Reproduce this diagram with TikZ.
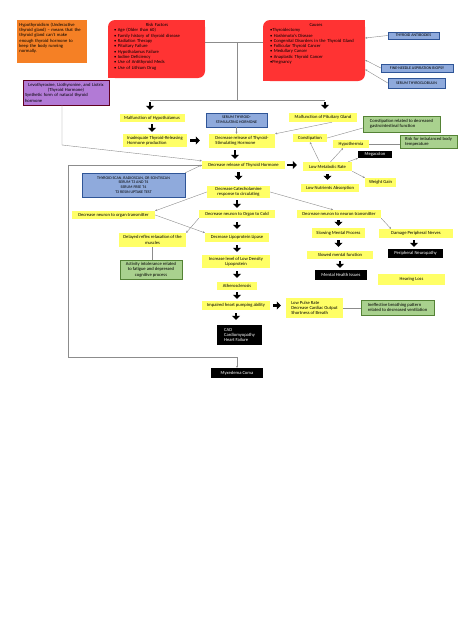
\documentclass[tikz,border=0pt]{standalone}
\usepackage{fontspec}
\setmainfont{Carlito}
\usetikzlibrary{arrows.meta}
\definecolor{boxyellow}{RGB}{255,255,102}
\definecolor{riskred}{RGB}{255,51,51}
\definecolor{noteorange}{RGB}{245,128,37}
\definecolor{drugpurple}{RGB}{178,122,214}
\definecolor{labblue}{RGB}{143,170,220}
\definecolor{labborder}{RGB}{47,85,151}
\definecolor{carefill}{RGB}{169,209,142}
\definecolor{careborder}{RGB}{84,130,53}
\definecolor{wire}{RGB}{140,140,140}
\newcommand\tinytext{\fontsize{4.6}{5.3}\selectfont}
\newcommand\labtext{\fontsize{4}{4.8}\selectfont}
\newcommand\midline[1]{\makebox[\hsize][c]{#1}}

\tikzset{
  box/.style={inner sep=1pt, font=\tinytext, align=center},
  yel/.style={box, fill=boxyellow},
  lab/.style={box, font=\labtext, fill=labblue, draw=labborder, line width=0.4pt},
  care/.style={box, fill=carefill, draw=careborder, line width=0.4pt},
  dark/.style={box, fill=black, text=white},
  fat/.style={line width=2.6pt, -{Triangle[length=4pt,width=8pt]}, shorten <=2pt, shorten >=2pt},
  link/.style={draw=wire, line width=0.4pt, -{Stealth[length=2pt,width=2pt]}},
  wirel/.style={draw=wire, line width=0.4pt},
}

\begin{document}
\begin{tikzpicture}[x=1pt,y=-1pt]
  \useasboundingbox[fill=white] (0,0) rectangle (474,632);

  \node[box, fill=noteorange, minimum width=70pt, minimum height=43pt] (note) at (52,41.5) {};
  \node[box, anchor=north west, text width=68pt, align=left] (notetext) at ([shift={(1.5,2)}]note.north west)
    {Hypothyroidism (Underactive\\thyroid gland) -- means that the\\thyroid gland can't make\\enough thyroid hormone to\\keep the body running\\normally.};

  \node[fill=riskred, rounded corners=7pt, minimum width=97pt, minimum height=58pt, inner sep=0pt] (risk) at (156.5,49) {};
  \fill[riskred] (risk.north east) rectangle ++(-8,8);
  \fill[riskred] (risk.south west) rectangle ++(8,-8);
  \node[box, anchor=north west, text width=86pt, align=left] (risklist) at ([shift={(5,2.5)}]risk.north west)
    {\midline{Risk Factors}\\
     • Age (Older than 60)\\
     • Family history of thyroid disease\\
     • Radiation Therapy\\
     • Pituitary Failure\\
     • Hypothalamus Failure\\
     • Iodine Deficiency\\
     • Use of Antithyroid Meds\\
     • Use of Lithium Drug};

  \node[fill=riskred, rounded corners=7pt, minimum width=102pt, minimum height=61pt, inner sep=0pt] (causes) at (314,50.5) {};
  \fill[riskred] (causes.north east) rectangle ++(-8,8);
  \fill[riskred] (causes.south west) rectangle ++(8,-8);
  \node[box, anchor=north west, text width=92pt, align=left] (causelist) at ([shift={(6,2.5)}]causes.north west)
    {\midline{Causes}\\
     •Thyroidectomy\\
     • Hashimoto's Disease\\
     • Congenital Disorders in the Thyroid Gland\\
     • Follicular Thyroid Cancer\\
     • Medullary Cancer\\
     • Anaplastic Thyroid Cancer\\
     •Pregnancy};

  \node[lab, minimum width=51pt, minimum height=7pt] (antibodies) at (413.5,35.5) {THYROID ANTIBODIES};
  \node[lab, minimum width=72pt, minimum height=8pt] (fna) at (417,68) {FINE-NEEDLE ASPIRATION BIOPSY};
  \node[lab, minimum width=57pt, minimum height=10pt] (thyroglob) at (416.5,83) {SERUM THYROGLOBULIN};

  \node[box, fill=drugpurple, draw=purple!50!black, line width=0.4pt, minimum width=86pt, minimum height=25pt,
        text width=82pt, align=left] (drug) at (66,92.5)
    {\midline{Levothyroxine, Liothyronine, and Liotrix}\\
     \midline{(Thyroid Hormone)}\\
     Synthetic form of natural thyroid\\hormone};

  \node[yel, minimum width=65pt, minimum height=8pt] (hypo) at (152,118) {Malfunction of Hypothalamus};
  \node[yel, align=left, minimum width=64pt, minimum height=13pt] (trh) at (155,140.5) {Inadequate Thyroid-Releasing\\Hormone production};
  \node[lab, minimum width=61pt, minimum height=14pt] (serumtsh) at (236.5,120) {SERUM THYROID-\\STIMULATING HORMONE};
  \node[yel, align=left, minimum width=66pt, minimum height=14pt] (tsh) at (242,141) {Decrease release of Thyroid-\\Stimulating Hormone};
  \node[yel, minimum width=68pt, minimum height=9pt] (pituitary) at (323,117.5) {Malfunction of Pituitary Gland};
  \node[yel, minimum width=83pt, minimum height=8pt] (hormone) at (243.5,165) {Decrease release of Thyroid Hormone};
  \node[yel, minimum width=34pt, minimum height=8pt] (constip) at (310,138) {Constipation};
  \node[care, align=left, minimum width=77pt, minimum height=16pt] (gicare) at (401.5,124) {Constipation related to decreased\\gastrointestinal function};
  \node[yel, minimum width=36pt, minimum height=8pt] (hypotherm) at (351,144) {Hypothermia};
  \node[care, align=left, minimum width=57pt, minimum height=13pt] (tempcare) at (428.5,141.5) {Risk for imbalanced body\\temperature};
  \node[dark, minimum width=34pt, minimum height=7pt] (megacolon) at (375,154.5) {Megacolon};
  \node[yel, minimum width=49pt, minimum height=9pt] (lowmeta) at (327.5,166.5) {Low Metabolic Rate};
  \node[yel, minimum width=31pt, minimum height=9pt] (weight) at (380.5,182.5) {Weight Gain};
  \node[yel, minimum width=58pt, minimum height=8pt] (nutrients) at (330,188) {Low Nutrients Absorption};
  \node[lab, minimum width=103pt, minimum height=24pt] (scan) at (133.5,185)
    {THYROID SCAN, RADIOSCAN, OR SCINTISCAN\\SERUM T3 AND T4\\SERUM FREE T4\\T3 RESIN UPTAKE TEST};
  \node[yel, minimum width=63pt, minimum height=12pt] (catechol) at (238.5,192) {Decrease Catecholamine\\response to circulating};
  \node[yel, minimum width=83pt, minimum height=8pt] (organtrans) at (113.5,215) {Decrease neuron to organ transmitter};
  \node[yel, minimum width=76pt, minimum height=8pt] (cold) at (237,214) {Decrease neuron to Organ to Cold};
  \node[yel, minimum width=84pt, minimum height=8pt] (neurontrans) at (339,214) {Decrease neuron to neuron transmitter};
  \node[yel, minimum width=67pt, minimum height=14pt] (delayed) at (152.5,240) {Delayed reflex relaxation of the\\muscles};
  \node[care, minimum width=62pt, minimum height=19pt] (activity) at (151,269.5) {Activity intolerance related\\to fatigue and depressed\\cognitive process};
  \node[yel, minimum width=64pt, minimum height=9pt] (lipase) at (237,237.5) {Decrease Lipoprotein Lipase};
  \node[yel, minimum width=53pt, minimum height=10pt] (slowing) at (338.5,233) {Slowing Mental Process};
  \node[yel, minimum width=74pt, minimum height=9pt] (damage) at (416,233.5) {Damage Peripheral Nerves};
  \node[yel, minimum width=68pt, minimum height=13pt] (ldl) at (236,261.5) {Increase level of Low Density\\Lipoprotein};
  \node[yel, minimum width=66pt, minimum height=8pt] (slowedfn) at (340,255) {Slowed mental function};
  \node[dark, minimum width=55pt, minimum height=9pt] (neuropathy) at (415.5,253.5) {Peripheral Neuropathy};
  \node[dark, minimum width=52pt, minimum height=10pt] (mental) at (341,275) {Mental Health Issues};
  \node[yel, minimum width=67pt, minimum height=11pt] (hearing) at (411.5,279.5) {Hearing Loss};
  \node[yel, minimum width=40pt, minimum height=8pt] (athero) at (237,286) {Atherosclerosis};
  \node[yel, minimum width=68pt, minimum height=9pt] (impaired) at (236,305.5) {Impaired heart pumping ability};
  \node[yel, align=left, minimum width=57pt, minimum height=20pt] (lowpulse) at (314.5,308) {Low Pulse Rate\\Decrease Cardiac Output\\Shortness of Breath};
  \node[care, align=left, minimum width=73pt, minimum height=15pt] (breathing) at (397.5,307.5) {Ineffective breathing pattern\\related to decreased ventilation};
  \node[dark, align=left, minimum width=45pt, minimum height=20pt] (cad) at (239.5,335) {CAD\\Cardiomyopathy\\Heart Failure};
  \node[dark, minimum width=52pt, minimum height=10pt] (coma) at (237,373) {Myxedema Coma};

  \coordinate (joint) at (237,42);
  \coordinate (busleft) at (150,100);
  \coordinate (busright) at (325,100);
  \coordinate (pbend) at (62,145);
  \coordinate (loopcorner) at (68,357);

  \draw[wirel] (risk.east |- joint) -- (causes.west |- joint);
  \draw[wirel] (joint) -- (joint |- busleft);
  \draw[wirel] (busleft) -- (busright);
  \draw[fat, shorten >=4pt] (busleft) -- (busleft |- hypo.north);
  \draw[fat, shorten >=4pt] (busright) -- (busright |- pituitary.north);

  \draw[link] (antibodies.west) -- ([yshift=12.5pt]causes.east);
  \draw[link] (fna.west) -- ([yshift=-9.5pt]causes.east);
  \draw[link] (thyroglob.west) -- ([yshift=-19pt]causes.east);

  \draw[link] (drug.south -| pbend) -- (pbend) -- (hormone.north west);
  \draw[link] (hormone.west) -| (loopcorner) -| (coma.north);
  \draw[link] (scan.north east) -- (hormone.west);

  \draw[fat] (hypo.south) -- (hypo.south |- trh.north);
  \draw[fat, shorten <=3pt, shorten >=9pt] (trh.east) -- (trh.east -| tsh.west);
  \draw[link] (serumtsh.south) -- (serumtsh.south |- tsh.north);
  \draw[link] ([xshift=9pt]pituitary.south) -- (tsh.north east);
  \draw[fat] ([xshift=-7pt]tsh.south) -- ([xshift=-7pt]tsh.south |- hormone.north);
  \draw[fat, shorten <=3pt, shorten >=6pt] (catechol.north |- hormone.south) -- (catechol.north);
  \draw[fat, shorten >=6pt] (hormone.east) -- (hormone.east -| lowmeta.west);

  \draw[wirel] (constip.east) -- ([yshift=-4pt]gicare.west);
  \draw[wirel] (hypotherm.east) -- (hypotherm.east -| tempcare.west);
  \draw[link] ([xshift=-8pt]lowmeta.north) -- (constip.south);
  \draw[link] ([xshift=3pt]lowmeta.north) -- ([xshift=-8pt]hypotherm.south);
  \draw[link] ([xshift=-4pt]lowmeta.north east) -- (megacolon.south west);
  \draw[link] (lowmeta.south east) -- (weight.north west);
  \draw[fat, shorten <=3pt, shorten >=4pt] (lowmeta.south) -- (lowmeta.south |- nutrients.north);

  \draw[fat] (cold.north |- catechol.south) -- (cold.north);
  \draw[link] (catechol.west) -- (organtrans.north east);
  \draw[link] (catechol.east) -- ([xshift=-6pt]neurontrans.north);
  \draw[link] (organtrans.east) -- (lipase.north west);
  \draw[link] (cold.south west) -- (delayed.north east);
  \draw[wirel] (delayed.south) -- (delayed.south |- activity.north);

  \draw[fat, shorten <=4pt, shorten >=4pt] (cold.south) -- (cold.south |- lipase.north);
  \draw[fat, shorten <=3pt, shorten >=3pt] (lipase.south) -- (lipase.south |- ldl.north);
  \draw[fat, shorten <=3pt, shorten >=4pt] (athero.north |- ldl.south) -- (athero.north);
  \draw[fat] (athero.south) -- (athero.south |- impaired.north);
  \draw[fat, shorten <=3pt, shorten >=5pt] (impaired.south) -- (impaired.south |- cad.north);
  \draw[fat, shorten <=3pt, shorten >=5pt] (impaired.east) -- (impaired.east -| lowpulse.west);
  \draw[wirel] (lowpulse.east) -- (lowpulse.east -| breathing.west);

  \draw[link] (neurontrans.south east) -- ([xshift=-25pt]damage.north);
  \draw[fat] (slowing.north |- neurontrans.south) -- (slowing.north);
  \draw[fat, shorten <=2pt, shorten >=4pt] (slowing.south) -- (slowing.south |- slowedfn.north);
  \draw[fat] (slowedfn.south) -- (slowedfn.south |- mental.north);
  \draw[fat] ([xshift=-2pt]damage.south) -- ([xshift=-2pt]damage.south |- neuropathy.north);
\end{tikzpicture}
\end{document}
